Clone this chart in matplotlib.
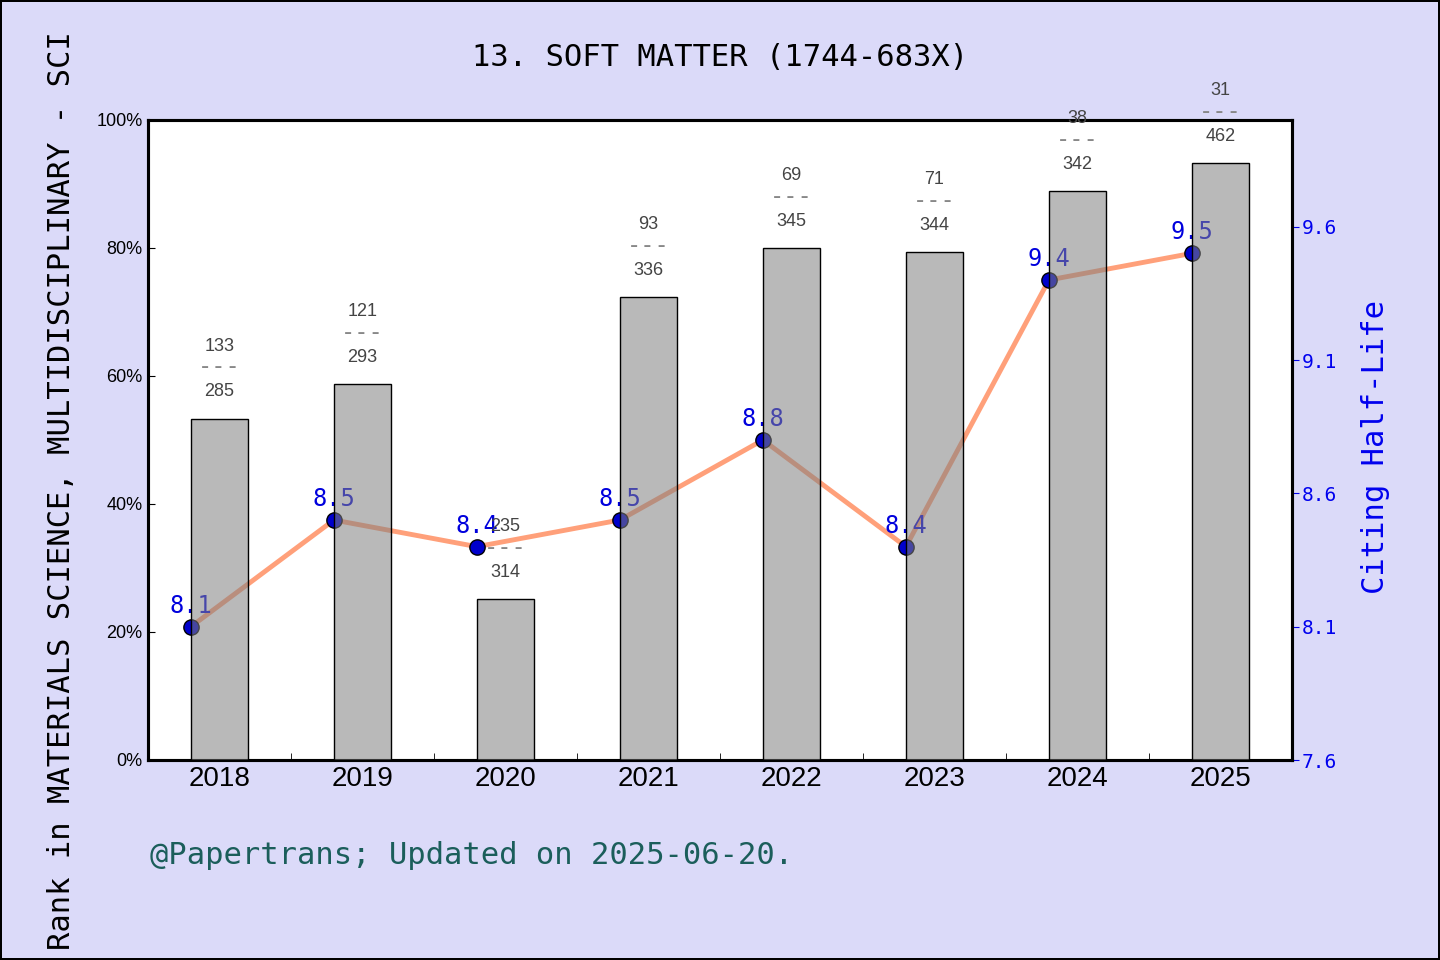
import matplotlib
matplotlib.use("Agg")
import matplotlib.pyplot as plt
import numpy as np
from matplotlib.ticker import PercentFormatter, FixedLocator

years = ["2018", "2019", "2020", "2021", "2022", "2023", "2024", "2025"]
rank = [133, 121, 235, 93, 69, 71, 38, 31]
total = [285, 293, 314, 336, 345, 344, 342, 462]
half_life = [8.1, 8.5, 8.4, 8.5, 8.8, 8.4, 9.4, 9.5]

bg = "#DBDAF9"
mono = "DejaVu Sans Mono"
sans = "Liberation Sans"

fig = plt.figure(figsize=(14.4, 9.6), dpi=100)
fig.patch.set_facecolor(bg)
fig.patch.set_edgecolor("black")
fig.patch.set_linewidth(1.5)

ax = fig.add_axes([148/1440, 1-760/960, (1292-148)/1440, (760-120)/960])
ax2 = ax.twinx()
ax.set_zorder(2)
ax2.set_zorder(1)
ax.patch.set_visible(False)
ax2.patch.set_visible(True)
ax2.patch.set_facecolor("white")

x = np.arange(len(years))
share = 1 - np.array(rank) / np.array(total)

# line + points (under the bars)
ax2.plot(x - 0.2, half_life, color="#FFA07A", lw=3.5, zorder=2)
ax2.plot(x - 0.2, half_life, "o", color="#0000CC", mec="black", mew=1, ms=11, zorder=3)
for xi, v in zip(x - 0.2, half_life):
    ax2.annotate(f"{v}", (xi, v), xytext=(0, 10), textcoords="offset points",
                 ha="center", va="baseline", color="#0000DD", fontsize=17, family=mono)
ax2.set_ylim(7.6, 10.0)
ax2.set_yticks([7.6, 8.1, 8.6, 9.1, 9.6])
ax2.tick_params(axis="y", direction="out", length=5, colors="#0000EE", labelsize=14, pad=2)
for t in ax2.get_yticklabels():
    t.set_family(mono)

# bars
ax.bar(x, share, width=0.4, color="#808080", alpha=0.55, edgecolor="none", zorder=3)
ax.bar(x, share, width=0.4, fill=False, edgecolor="black", lw=1, zorder=4)
for xi, s, r, t in zip(x, share, rank, total):
    ax.annotate(f"{t}", (xi, s), xytext=(0, 16), textcoords="offset points",
                ha="center", va="baseline", color="#444444", fontsize=13, family=sans,
                annotation_clip=False)
    ax.annotate("---", (xi, s), xytext=(0, 37), textcoords="offset points",
                ha="center", va="center", color="#888888", fontsize=17, family=mono,
                annotation_clip=False)
    ax.annotate(f"{r}", (xi, s), xytext=(0, 49), textcoords="offset points",
                ha="center", va="baseline", color="#444444", fontsize=13, family=sans,
                annotation_clip=False)

ax.set_xlim(-0.5, 7.5)
ax.set_ylim(0, 1)
ax.yaxis.set_major_formatter(PercentFormatter(1.0, decimals=0))
ax.set_yticks(np.arange(0, 1.01, 0.2))
ax.tick_params(axis="y", direction="in", length=5, labelsize=13, pad=4)
for t in ax.get_yticklabels():
    t.set_family(sans)
ax.set_xticks(x)
ax.set_xticklabels(years, family=sans, fontsize=20)
ax.tick_params(axis="x", length=0, pad=4)
ax.xaxis.set_minor_locator(FixedLocator(x[:-1] + 0.5))
ax.tick_params(axis="x", which="minor", direction="in", length=5)

for a in (ax, ax2):
    for sp in a.spines.values():
        sp.set_linewidth(2.2)
        sp.set_color("black")

fig.text(0.5, 1-57/960, "13. SOFT MATTER (1744-683X)", ha="center", va="center",
         fontsize=22, family=mono)
fig.text(150/1440, 1-855/960, "@Papertrans; Updated on 2025-06-20.", ha="left", va="center",
         fontsize=22, family=mono, color="#1B5E5B")
fig.text(62/1440, 10/960, "Rank in MATERIALS SCIENCE, MULTIDISCIPLINARY - SCI",
         rotation=90, ha="center", va="bottom", fontsize=22, family=mono)
fig.text(1375/1440, 1-447/960, "Citing Half-Life", rotation=90, ha="center", va="center",
         fontsize=22, family=mono, color="#0000EE")

fig.savefig("out.png", dpi=100, facecolor=fig.get_facecolor(), edgecolor=fig.get_edgecolor())
